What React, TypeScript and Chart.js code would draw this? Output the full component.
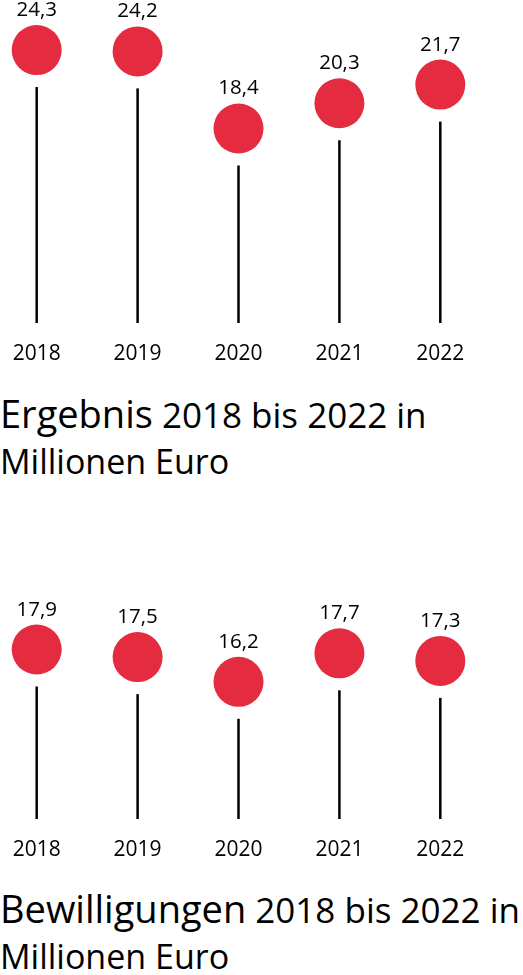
import React, { useEffect, useRef } from "react";
import { Chart, registerables } from "chart.js";

Chart.register(...registerables);

const years: string[] = ["2018", "2019", "2020", "2021", "2022"];
const ergebnisValues: number[] = [24.3, 24.2, 18.4, 20.3, 21.7];
const bewilligungenValues: number[] = [17.9, 17.5, 16.2, 17.7, 17.3];
const ergebnisTitle = ["Ergebnis", " 2018 bis 2022 in", "Millionen Euro"];
const bewilligungenTitle = ["Bewilligungen", " 2018 bis 2022 in", "Millionen Euro"];

const RED = "#e42b3f";
const FONT = '"Open Sans", "Noto Sans", sans-serif';

const stemsPlugin = {
  id: "stems",
  afterDatasetsDraw(chart: any, _args: any, opts: any) {
    const meta = chart.getDatasetMeta(0);
    const ctx = chart.ctx;
    const bottom = chart.chartArea.bottom;
    const data = chart.data.datasets[0].data as number[];
    ctx.save();
    meta.data.forEach((pt: any, i: number) => {
      const { x, y } = pt.getProps(["x", "y"], true);
      ctx.strokeStyle = "#000";
      ctx.lineWidth = 2.5;
      ctx.lineCap = "butt";
      ctx.beginPath();
      ctx.moveTo(x, y + opts.gap);
      ctx.lineTo(x, bottom);
      ctx.stroke();
      ctx.fillStyle = "#000";
      ctx.font = `20.5px ${FONT}`;
      ctx.textAlign = "center";
      ctx.textBaseline = "alphabetic";
      ctx.fillText(data[i].toFixed(1).replace(".", ","), x, y - 34);
    });
    ctx.restore();
  },
};

type LollipopProps = {
  values: number[];
  top: number;
  height: number;
  padTop: number;
  yMin: number;
  yMax: number;
};

function Lollipop({ values, top, height, padTop, yMin, yMax }: LollipopProps) {
  const ref = useRef<HTMLCanvasElement>(null);
  useEffect(() => {
    if (!ref.current) return;
    const chart = new Chart(ref.current, {
      type: "line",
      data: {
        labels: years,
        datasets: [
          {
            data: values,
            showLine: false,
            pointRadius: 25,
            pointHoverRadius: 25,
            pointBackgroundColor: RED,
            pointBorderWidth: 0,
            pointBorderColor: RED,
            clip: false as any,
          },
        ],
      },
      options: {
        animation: false,
        responsive: false,
        events: [],
        layout: { autoPadding: false, padding: { left: 36.7, right: 82.7, top: padTop, bottom: 0 } },
        plugins: {
          legend: { display: false },
          tooltip: { enabled: false },
          title: { display: false },
          stems: { gap: 37 },
        } as any,
        scales: {
          x: {
            type: "category",
            offset: false,
            grid: { display: false, drawTicks: false },
            border: { display: false },
            ticks: {
              color: "#000",
              font: { family: FONT, size: 21, lineHeight: "62px" },
              padding: 0,
              maxRotation: 0,
              autoSkip: false,
            },
            afterFit: (scale: any) => {
              scale.height = 47;
            },
          },
          y: {
            type: "linear",
            display: false,
            min: yMin,
            max: yMax,
          },
        },
      },
      plugins: [stemsPlugin],
    });
    return () => chart.destroy();
  }, [values, yMin, yMax, padTop]);
  return (
    <canvas
      ref={ref}
      width={523}
      height={height}
      style={{ position: "absolute", left: 0, top, width: 523, height, display: "block" }}
    />
  );
}

function Title({ parts, top }: { parts: string[]; top: number }) {
  return (
    <div
      style={{
        position: "absolute",
        left: 0,
        top,
        fontFamily: FONT,
        fontSize: 34,
        lineHeight: "46px",
        color: "#000",
        whiteSpace: "nowrap",
      }}
    >
      <div>
        <span style={{ fontSize: 38, lineHeight: 1 }}>{parts[0]}</span>
        <span style={{ fontSize: 35, lineHeight: 1 }}>{parts[1]}</span>
      </div>
      <div>{parts[2]}</div>
    </div>
  );
}

export default function App() {
  return (
    <div style={{ position: "absolute", left: 0, top: 0, width: 523, height: 975, background: "#fff" }}>
      <Lollipop values={ergebnisValues} top={0} height={370} padTop={20} yMin={3.77} yMax={26.56} />
      <Title parts={ergebnisTitle} top={391.5} />
      <Lollipop values={bewilligungenValues} top={560} height={306} padTop={0} yMin={8.98} yMax={22.61} />
      <Title parts={bewilligungenTitle} top={887.1} />
    </div>
  );
}
